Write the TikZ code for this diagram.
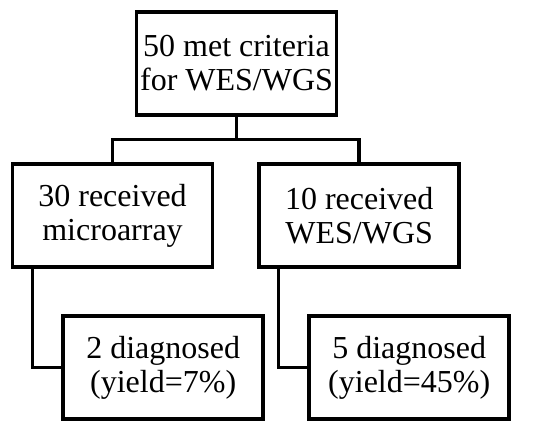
\documentclass[tikz,border=0pt]{standalone}
\usepackage{fontspec}
\setmainfont{Liberation Serif}
\usetikzlibrary{shapes}
\tikzstyle{block} = [rectangle, draw, line width=2.8pt, align=center,
    minimum width=150pt, minimum height=77.5pt, inner sep=0pt,
    font=\fontsize{24}{25.5}\selectfont]
\tikzstyle{line} = [draw, line width=2.6pt]

\begin{document}
\begin{tikzpicture}[node distance=114pt]
	\useasboundingbox (-177.4pt,47.6pt) rectangle (235.1pt,-279.4pt);

		\node [block] (criteria) {50 met criteria\\for WES/WGS};

		\node [block, below of=criteria, xshift=-93pt] (microarray) {30 received\\microarray};
		\node [block, below of=criteria, xshift=92pt] (sequencing) {10 received\\WES/WGS};

		\node [block, below of=microarray, xshift=38pt] (microyield) {2 diagnosed\\(yield=7\%)};
		\node [block, below of=sequencing, xshift=37.5pt] (seqyield) {5 diagnosed\\(yield=45\%)};

		\path [line] (criteria.south) -- ++(0,-17pt) -| (microarray.north);
		\path [line] (criteria.south) -- ++(0,-17pt) -| (sequencing.north);

		\path [line] ([xshift=16.5pt]microarray.south west) |- (microyield.west);
		\path [line] ([xshift=16pt]sequencing.south west) |- (seqyield.west);
	\end{tikzpicture}
\end{document}
